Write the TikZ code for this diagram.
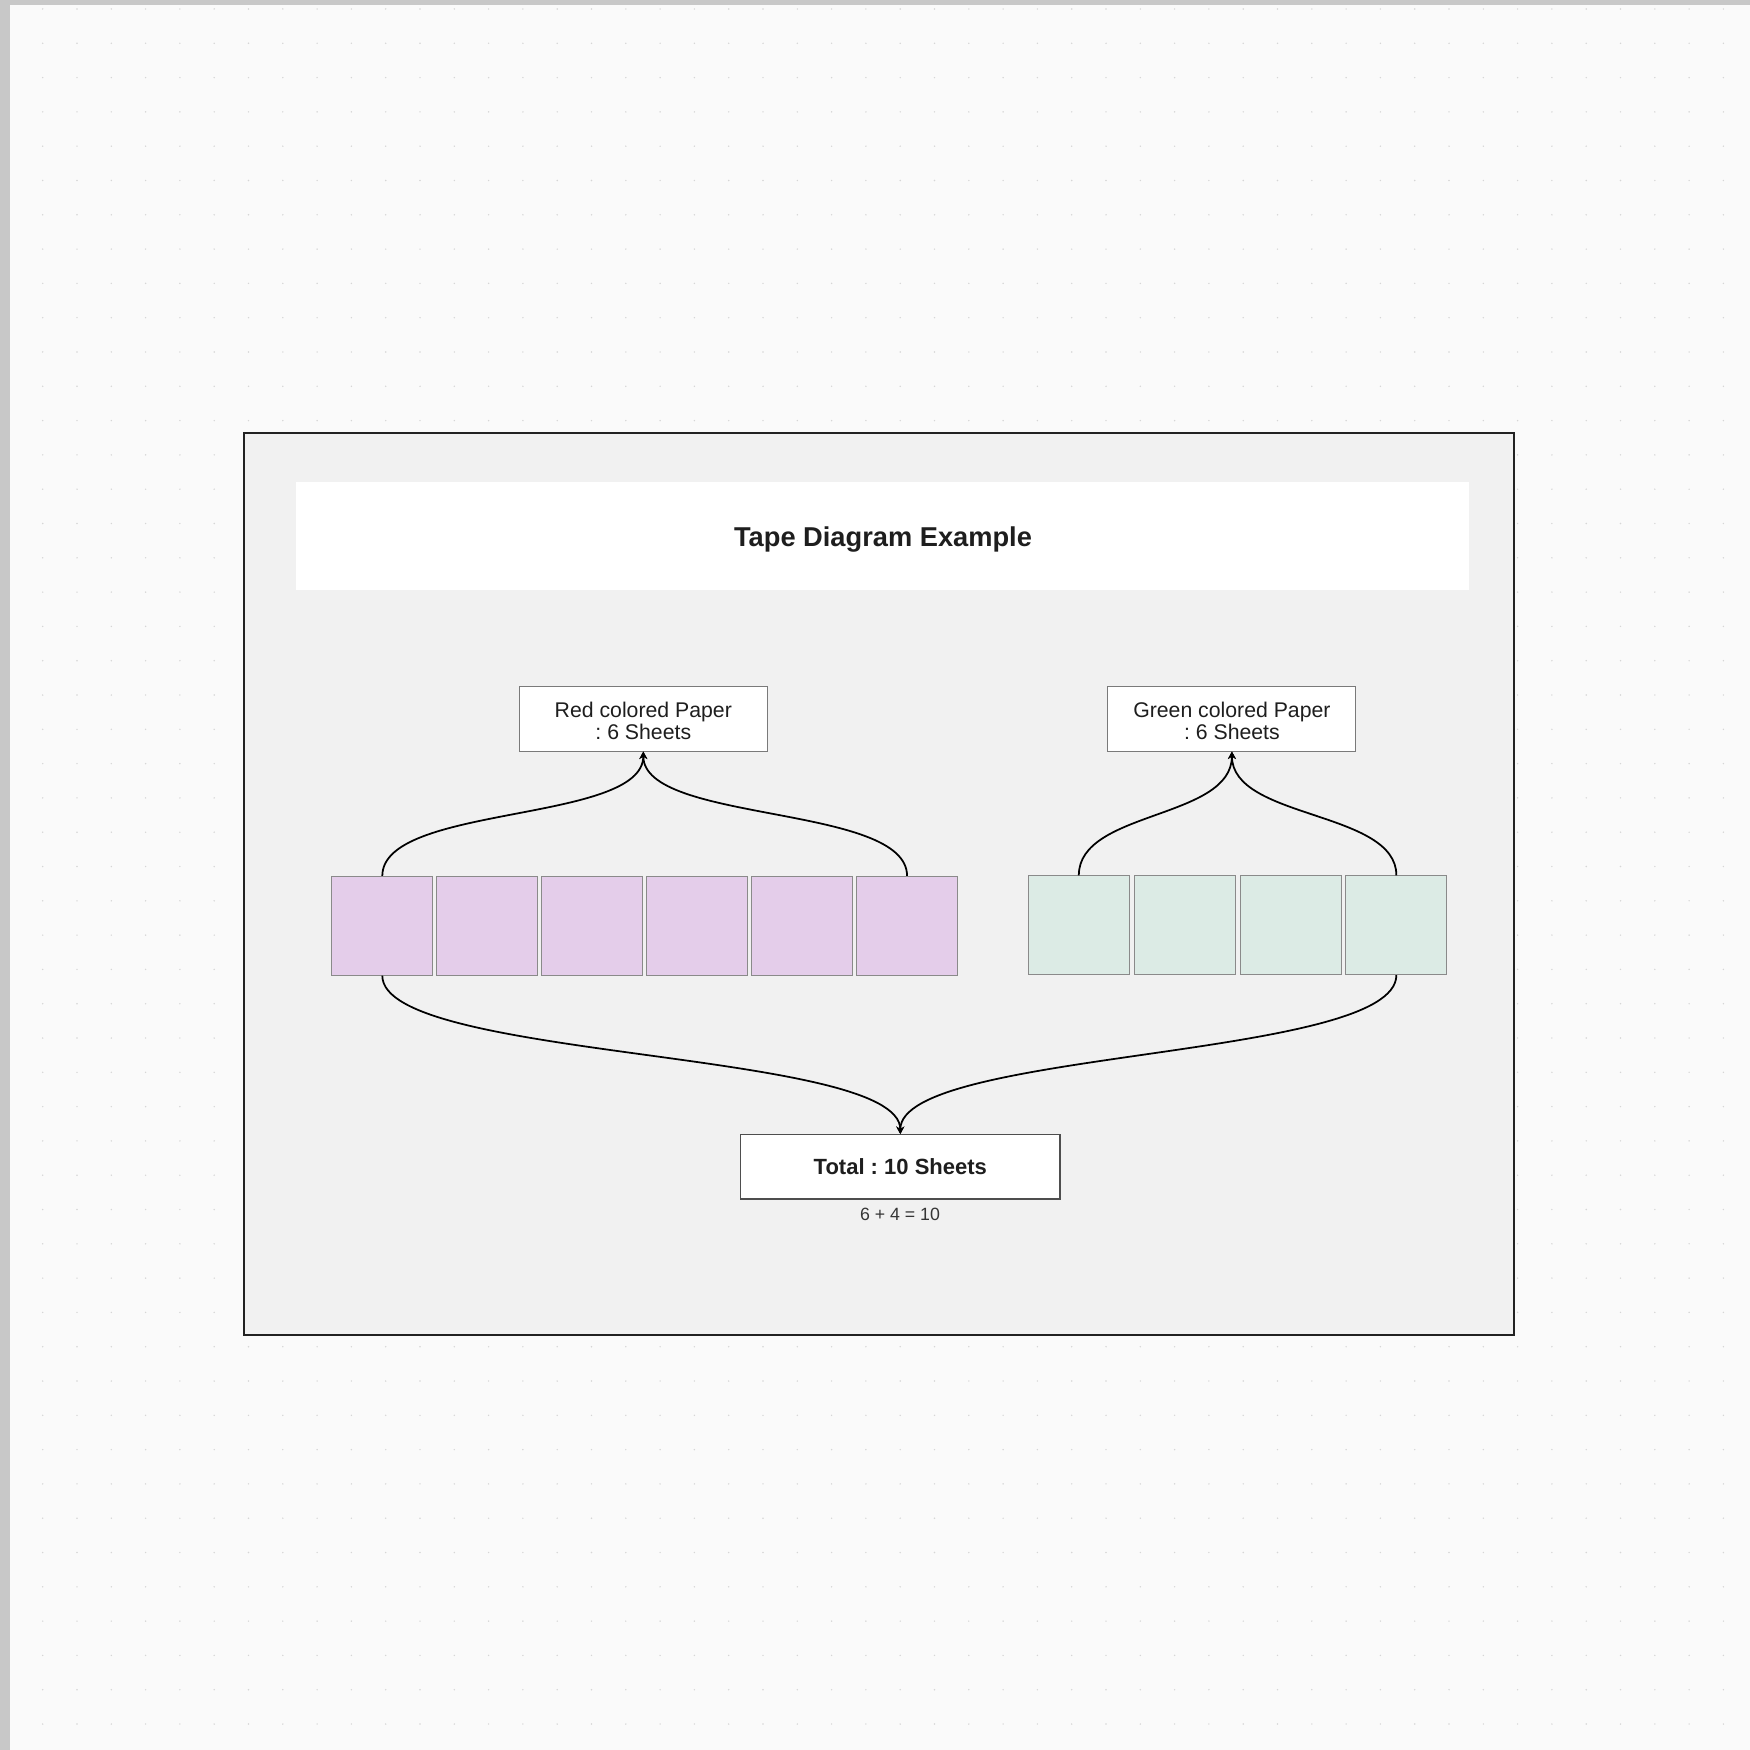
\documentclass[tikz,border=0pt]{standalone}
\usepackage{fontspec}
\setmainfont{Liberation Sans}
\usetikzlibrary{arrows.meta}
\definecolor{pagebg}{HTML}{FAFAFA}
\definecolor{stripc}{HTML}{C8C8C8}
\definecolor{dotc}{HTML}{D6D6D6}
\definecolor{framebg}{HTML}{F1F1F1}
\definecolor{framebd}{HTML}{222222}
\definecolor{redsq}{HTML}{E4CDEA}
\definecolor{greensq}{HTML}{DCEBE5}
\definecolor{sqbd}{HTML}{8A8A8A}
\definecolor{lblbd}{HTML}{7A7A7A}
\definecolor{txt}{HTML}{1E1E1E}
\tikzset{
  sheetbox/.style={draw=sqbd, line width=0.4pt, inner sep=0pt, minimum height=39.5pt},
  redsheet/.style={sheetbox, fill=redsq, minimum width=40.4pt},
  greensheet/.style={sheetbox, fill=greensq, minimum width=40.4pt},
  labelbox/.style={draw=lblbd, line width=0.4pt, fill=white, inner sep=0pt,
    minimum width=99.2pt, minimum height=25.7pt},
  labeltext/.style={align=center, text=txt, inner sep=0pt,
    font=\fontsize{8.5}{8.7}\selectfont},
  totalbox/.style={draw=framebd!80, line width=0.5pt, fill=white, inner sep=0pt,
    minimum width=127.7pt, minimum height=25.7pt, text=txt,
    font=\fontsize{8.8}{10}\selectfont\bfseries},
  link/.style={draw=black, line width=0.7pt, -{Stealth[length=3pt,width=3.2pt]}}
}
\begin{document}
\frenchspacing
\begin{tikzpicture}[x=0.4pt,y=-0.4pt]
\useasboundingbox (0,0) rectangle (1750,1750);
\fill[pagebg] (0,0) rectangle (1750,1750);
\fill[stripc] (0,0) rectangle (10,1750);
\fill[stripc] (0,0) rectangle (1750,5);
\foreach \i in {0,...,50}{
  \foreach \j in {0,...,50}{
    \fill[dotc] ({42.7+34.3*\i},{9+34.3*\j}) circle (0.32pt);
  }
}
% frame
\draw[draw=framebd, fill=framebg, line width=0.8pt] (243.5,433) rectangle (1513.5,1334.5);
% title
\node (title) [fill=white, inner sep=0pt, minimum width=469.2pt, minimum height=43.2pt] at (882.5,536) {};
\node (titletext) [text=txt, font=\fontsize{10.9}{12}\selectfont\bfseries] at (883,540) {Tape Diagram Example};
% labels
\node (redlbl) [labelbox] at (643.3,718.9) {};
\node (redtxt) [labeltext] at (643.3,721) {Red colored Paper\\: 6 Sheets};
\node (greenlbl) [labelbox] at (1231.9,718.9) {};
\node (greentxt) [labeltext] at (1231.9,721) {Green colored Paper\\: 6 Sheets};
% red sheets
\foreach \k in {1,...,6}{
  \node (r\k) [redsheet] at ({382.3+104.95*(\k-1)},925.8) {};
}
% green sheets
\foreach \k in {1,...,4}{
  \node (g\k) [greensheet] at ({1078.8+105.85*(\k-1)},925.2) {};
}
% total
\node (total) [totalbox] at (900.3,1166.8) {Total : 10 Sheets};
\node (sum) [text=txt!90, font=\fontsize{7.1}{8}\selectfont] at (900,1214.5) {6 + 4 = 10};
% connectors
\path[link] (r1.north) .. controls +(0,-72) and +(0,72) .. (redlbl.south);
\path[link] (r6.north) .. controls +(0,-72) and +(0,72) .. (redlbl.south);
\path[link] (g1.north) .. controls +(0,-65) and +(0,68) .. (greenlbl.south);
\path[link] (g4.north) .. controls +(0,-65) and +(0,68) .. (greenlbl.south);
\path[link] (r1.south) .. controls +(0,85) and +(0,-85) .. (total.north);
\path[link] (g4.south) .. controls +(0,85) and +(0,-85) .. (total.north);
\end{tikzpicture}
\end{document}
